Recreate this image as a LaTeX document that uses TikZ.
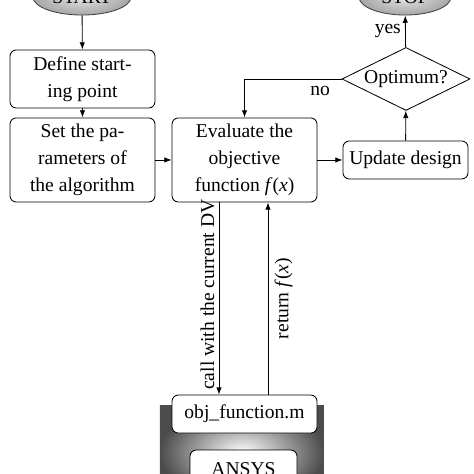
\documentclass[tikz,border=0pt]{standalone}
\usepackage{fontspec}
\setmainfont{Liberation Serif}
\usetikzlibrary{arrows.meta, shapes.geometric, positioning}

\begin{document}
\begin{tikzpicture}[>={Latex[length=3.5pt,width=2.6pt]}, font=\fontsize{9.4}{13}\selectfont,
  box/.style={draw, fill=white, rounded corners=3pt, align=center, minimum width=2.447cm, inner sep=1pt},
  term/.style={ellipse, draw=gray!50!black, shading=radial, inner color=gray!20, outer color=gray!70, minimum height=0.608cm, inner sep=0pt}]
  \clip (0,0) rectangle (8,-8);
  \shade[inner color=white, outer color=black!70] (2.700,-6.836) rectangle (5.468,-8.44);
  \node[term, minimum width=1.654cm] (start) at (1.384,0.05) {START};
  \node[term, minimum width=1.553cm] (stop) at (6.836,0.05) {STOP};
  \node[box, minimum height=0.979cm] (define) at (1.392,-1.333) {Define start-\\ing point};
  \node[box, minimum height=1.418cm] (set) at (1.392,-2.700) {Set the pa-\\rameters of\\the algorithm};
  \node[box, minimum height=1.418cm] (eval) at (4.127,-2.700) {Evaluate the\\objective\\function \textit{f}(\textit{x})};
  \node[box, minimum width=2.110cm, minimum height=0.641cm] (update) at (6.844,-2.700) {Update design};
  \node[diamond, draw, aspect=2, inner sep=0pt, minimum width=2.160cm, minimum height=1.063cm] (dia) at (6.852,-1.333) {Optimum?};
  \node[box, minimum height=0.641cm] (obj) at (4.127,-6.988) {obj\_function.m};
  \node[box, minimum width=1.806cm, minimum height=0.641cm] (ansys) at (4.110,-7.916) {ANSYS};
  \draw[->] (start) -- (define);
  \draw[->] (define) -- (set);
  \draw[->] (set) -- (eval);
  \draw[->] (eval) -- (update);
  \draw[->] (update) -- (dia);
  \draw[->] (dia) -- node[left, inner sep=2pt]{yes} (stop);
  \draw[->] (dia.west) -| node[below, pos=0.11]{no} (eval.north);
  \draw[->] ([xshift=-0.431cm]eval.south) -- node[rotate=90, anchor=south, inner sep=2pt, pos=0.48]{call with the current DV} ([xshift=-0.431cm]obj.north);
  \draw[->] ([xshift=0.396cm]obj.north) -- node[rotate=90, anchor=north, inner sep=3pt]{return \textit{f}(\textit{x})} ([xshift=0.396cm]eval.south);
\end{tikzpicture}
\end{document}
